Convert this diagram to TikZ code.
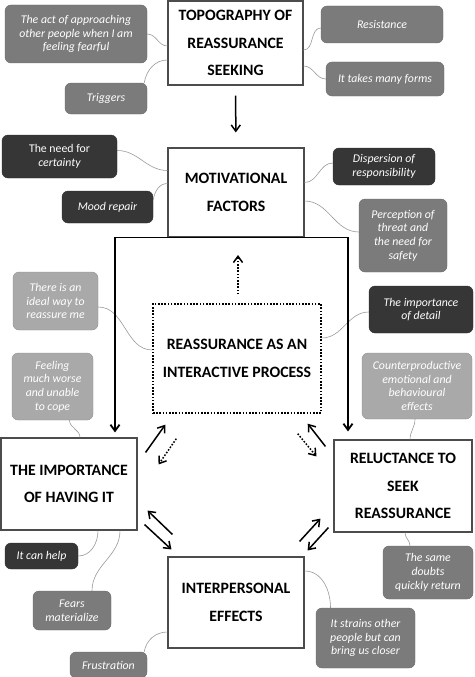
\documentclass[tikz,border=0pt]{standalone}
\usepackage{fontspec}
\setmainfont{Carlito}
\usetikzlibrary{positioning,arrows.meta}
\definecolor{notemid}{HTML}{7B7B7B}
\definecolor{notedark}{HTML}{363636}
\definecolor{notelight}{HTML}{A9A9A9}

\begin{document}
\begin{tikzpicture}[
    x=1pt, y=-1pt,
    block/.style={draw=black!70, line width=1.1pt, fill=white, align=center, inner sep=0pt, font=\bfseries\fontsize{15.8}{27.5}\selectfont},
    note/.style={draw=#1!85!black, fill=#1, rounded corners=6pt, text=white, align=center, inner sep=0pt, font=\itshape\fontsize{11.8}{13.7}\selectfont},
    arrow/.style={-{Straight Barb[length=2.2mm,width=3.2mm]}, line width=1.5pt},
    dotarrow/.style={arrow, dash pattern=on 1.6pt off 1.6pt},
    link/.style={draw=black!40, line width=0.6pt}
]
\useasboundingbox (0,0) rectangle (474,677);

% Main boxes
\node[block, minimum width=135pt, minimum height=84pt] (topo) at (235.5,43) {TOPOGRAPHY OF\\REASSURANCE\\SEEKING};
\node[block, minimum width=136pt, minimum height=89pt] (motiv) at (236,192.5) {MOTIVATIONAL\\FACTORS};
\node[block, draw=black, dash pattern=on 1.6pt off 1.6pt, line width=1.4pt, minimum width=168pt, minimum height=109pt] (inter) at (237,358.5) {REASSURANCE AS AN\\INTERACTIVE PROCESS};
\node[block, minimum width=136pt, minimum height=92pt] (imp) at (69,484) {THE IMPORTANCE\\OF HAVING IT};
\node[block, minimum width=138pt, minimum height=92pt] (reluct) at (403,486) {RELUCTANCE TO\\SEEK\\REASSURANCE};
\node[block, minimum width=136pt, minimum height=91pt] (interp) at (236,602.5) {INTERPERSONAL\\EFFECTS};

% Notes
\node[note=notemid, minimum width=142pt, minimum height=58pt] (act) at (76,34) {The act of approaching\\other people when I am\\feeling fearful};
\node[note=notemid, minimum width=82pt, minimum height=31pt] (trig) at (106,98.5) {Triggers};
\node[note=notemid, minimum width=122pt, minimum height=37pt] (resist) at (382,24.5) {Resistance};
\node[note=notemid, minimum width=118pt, minimum height=34pt] (forms) at (385,79) {It takes many forms};
\node[note=notedark, minimum width=115pt, minimum height=43pt] (cert) at (59.5,156.5) {\upshape The need for\\certainty};
\node[note=notedark, minimum width=91pt, minimum height=32pt] (mood) at (107.5,207) {Mood repair};
\node[note=notedark, minimum width=102pt, minimum height=37pt] (disp) at (384,166.5) {Dispersion of\\responsibility};
\node[note=notemid, minimum width=88pt, minimum height=73pt] (percep) at (403,235.5) {Perception of\\threat and\\the need for\\safety};
\node[note=notelight, minimum width=85pt, minimum height=58pt] (ideal) at (55.5,301) {There is an\\ideal way to\\reassure me};
\node[note=notedark, minimum width=104pt, minimum height=47pt] (detail) at (421,309.5) {The importance\\of detail};
\node[note=notelight, minimum width=81pt, minimum height=67pt] (feel) at (52.5,386.5) {Feeling\\much worse\\and unable\\to cope};
\node[note=notelight, minimum width=110pt, minimum height=66pt] (counter) at (417,386) {Counterproductive\\emotional and\\behavioural\\effects};
\node[note=notedark, minimum width=73pt, minimum height=26pt] (help) at (41.5,556) {It can help};
\node[note=notemid, minimum width=78pt, minimum height=39pt] (fears) at (72,610.5) {Fears\\materialize};
\node[note=notemid, minimum width=77pt, minimum height=26pt] (frust) at (108.5,665) {Frustration};
\node[note=notemid, minimum width=90pt, minimum height=53pt] (doubts) at (428,572.5) {The same\\doubts\\quickly return};
\node[note=notemid, minimum width=99pt, minimum height=60pt] (strains) at (365.5,638) {It strains other\\people but can\\bring us closer};

% Links
\draw[link] (act.east) to[out=0,in=180] ([yshift=-3pt]topo.west);
\draw[link] ([xshift=-3pt]trig.north east) to[out=80,in=180] ([yshift=-17pt]topo.west);
\draw[link] ([yshift=-7pt]topo.east) to[out=0,in=180] ([yshift=-3.5pt]resist.west);
\draw[link] ([yshift=-23pt]topo.east) to[out=0,in=180] (forms.west);
\draw[link] ([yshift=6pt]cert.east) to[out=0,in=180] ([yshift=22pt]motiv.west);
\draw[link] ([yshift=7pt]mood.east) to[out=80,in=180] ([yshift=9pt]motiv.west);
\draw[link] ([yshift=10pt]motiv.east) to[out=0,in=180] ([yshift=3.5pt]disp.west);
\draw[link] ([yshift=-8.5pt]motiv.east) to[out=0,in=180] ([yshift=3.5pt]percep.west);
\draw[link] ([yshift=-6pt]ideal.east) to[out=0,in=180] ([yshift=8.5pt]inter.west);
\draw[link] ([yshift=20.5pt]inter.east) to[out=0,in=180] ([yshift=-2.5pt]detail.west);
\draw[link] ([xshift=17pt]feel.south) to[out=-90,in=90] ([xshift=11pt]imp.north);
\draw[link] ([xshift=-2pt]counter.south) to[out=-90,in=90] ([xshift=7pt]reluct.north);
\draw[link] (help.east) to[out=0,in=-90] ([xshift=29pt]imp.south);
\draw[link] ([xshift=20pt]fears.north) to[out=90,in=-90] ([xshift=51pt]imp.south);
\draw[link] ([xshift=-3pt]frust.north east) to[out=80,in=180] ([yshift=-29.5pt]interp.west);
\draw[link] ([xshift=2pt]reluct.south) to[out=-90,in=90] ([xshift=-18pt]doubts.north);
\draw[link] ([yshift=31.5pt]interp.east) to[out=0,in=90] ([xshift=-35pt]strains.north);

% Arrows
\draw[arrow, shorten <=10pt, shorten >=15pt] (topo) -- (motiv);
\draw[arrow, line width=1.8pt] (motiv.south) -| ([xshift=46pt,yshift=5pt]imp.north);
\draw[arrow, line width=1.8pt] (motiv.south) -| ([xshift=-55pt,yshift=8pt]reluct.north);
\coordinate (up) at (238,255);
\draw[dotarrow] ([xshift=1pt,yshift=9pt]inter.north) -- (up);
\draw[arrow] ([xshift=8pt,yshift=-15pt]imp.north east) -- ([xshift=13pt,yshift=-11pt]inter.south west);
\draw[dotarrow] ([xshift=24pt,yshift=-25pt]inter.south west) -- ([xshift=21pt,yshift=-27pt]imp.north east);
\draw[dotarrow] ([xshift=-24pt,yshift=-20pt]inter.south east) -- ([xshift=-17pt,yshift=-17pt]reluct.north west);
\draw[arrow] ([xshift=-8pt,yshift=-7pt]reluct.north west) -- ([xshift=-14pt,yshift=-10pt]inter.south east);
\draw[arrow] ([xshift=5pt,yshift=22pt]interp.north west) -- ([xshift=10pt,yshift=20pt]imp.south east);
\draw[arrow] ([xshift=7pt,yshift=6pt]imp.south east) -- ([xshift=4pt,yshift=7pt]interp.north west);
\draw[arrow] ([xshift=-5pt,yshift=15pt]interp.north east) -- ([xshift=-13pt,yshift=14pt]reluct.south west);
\draw[arrow] ([xshift=-5pt,yshift=5pt]reluct.south west) -- ([xshift=3pt,yshift=6pt]interp.north east);
\end{tikzpicture}
\end{document}
